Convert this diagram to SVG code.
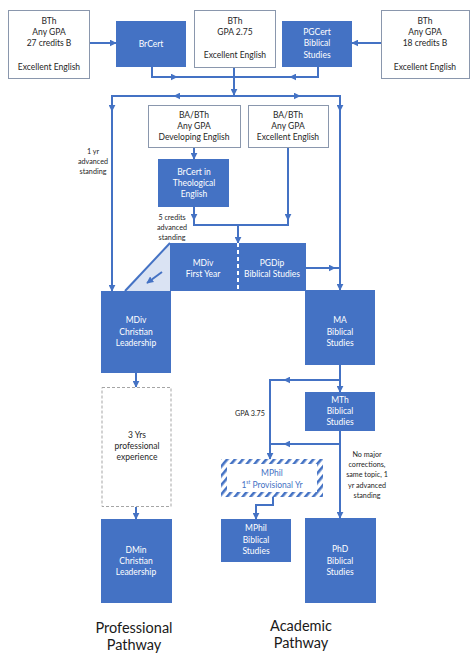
<svg xmlns="http://www.w3.org/2000/svg" width="474" height="659" viewBox="0 0 474 659">
<style>
.wbox{fill:#fff;stroke:#8a97ad;stroke-width:1}
.bbox{fill:#4472C4}
.t{font-family:Lato,"Open Sans","Liberation Sans",sans-serif;font-size:8.5px;text-anchor:middle;dominant-baseline:central}
.dk{fill:#262626}
.wt{fill:#fff}
.lbl{font-size:7.2px}
.con{fill:none;stroke:#4472C4;stroke-width:2}
.ah{fill:none;stroke:#4472C4;stroke-width:2;marker-end:url(#arr)}
.big{font-size:14.5px;fill:#1a1a1a}
</style>
<defs>
<marker id="arr" viewBox="0 0 10 10" refX="9" refY="5" markerWidth="3.5" markerHeight="3.5" orient="auto">
<path d="M0,0 L10,5 L0,10 z" fill="#4472C4"/>
</marker>
<pattern id="hatch" width="6" height="6" patternUnits="userSpaceOnUse" patternTransform="rotate(40)">
<rect x="0" y="0" width="2.6" height="6" fill="#4472C4"/>
</pattern>
</defs>
<rect width="474" height="659" fill="#fff"/>

<g id="connectors">
<path class="ah" d="M89,43 H116"/>
<path class="ah" d="M381,43 H352"/>
<path class="con" d="M152,67 V77 H318 V67"/>
<path class="ah" d="M160,77 H177"/>
<path class="ah" d="M310,77 H290"/>
<path class="con" d="M234,67 V96"/>
<path class="ah" d="M234,85 V95"/>
<path class="con" d="M112,291 V96 H340 V290"/>
<path class="ah" d="M190,96 H174"/>
<path class="ah" d="M284,96 H300"/>
<path class="ah" d="M112,100 V111"/>
<path class="ah" d="M340,100 V111"/>
<path class="ah" d="M112,275 V291"/>
<path class="ah" d="M340,275 V290"/>
<path class="ah" d="M194,147 V159"/>
<path class="con" d="M194,207 V225 H288 V147"/>
<path class="ah" d="M194,208 V220"/>
<path class="ah" d="M288,208 V220"/>
<path class="ah" d="M238,225 V243"/>
<path class="con" d="M306,268 H340"/>
<path class="ah" d="M318,268 H335"/>
<path class="ah" d="M136,373 V387"/>
<path class="ah" d="M136,507 V519"/>
<path class="ah" d="M340,365 V392"/>
<path class="con" d="M340,380 H270 V459"/>
<path class="ah" d="M300,380 H284"/>
<path class="ah" d="M270,445 V459"/>
<path class="ah" d="M340,431 V518"/>
<path class="con" d="M340,444 H270"/>
<path class="ah" d="M300,444 H284"/>
<path class="con" d="M273,497 V505 H256 V519"/>
<path class="ah" d="M256,505 V519"/>
</g>

<g id="bth27">
<rect class="wbox" x="8.5" y="10.5" width="81" height="68"/>
<text class="t dk" x="49" y="21">BTh</text>
<text class="t dk" x="49" y="32">Any GPA</text>
<text class="t dk" x="49" y="43">27 credits B</text>
<text class="t dk" x="49" y="67">Excellent English</text>
</g>
<g id="brcert">
<rect class="bbox" x="116" y="21" width="70" height="46"/>
<text class="t wt" x="151" y="44">BrCert</text>
</g>
<g id="bth275">
<rect class="wbox" x="194.5" y="10.5" width="81" height="57"/>
<text class="t dk" x="235" y="21">BTh</text>
<text class="t dk" x="235" y="32">GPA 2.75</text>
<text class="t dk" x="235" y="55">Excellent English</text>
</g>
<g id="pgcert">
<rect class="bbox" x="282" y="21" width="70" height="46"/>
<text class="t wt" x="317" y="32">PGCert</text>
<text class="t wt" x="317" y="43">Biblical</text>
<text class="t wt" x="317" y="55">Studies</text>
</g>
<g id="bth18">
<rect class="wbox" x="381.5" y="10.5" width="88" height="68"/>
<text class="t dk" x="425" y="21">BTh</text>
<text class="t dk" x="425" y="32">Any GPA</text>
<text class="t dk" x="425" y="43">18 credits B</text>
<text class="t dk" x="425" y="67">Excellent English</text>
</g>
<g id="badev">
<rect class="wbox" x="148.5" y="105.5" width="92" height="42"/>
<text class="t dk" x="194" y="115">BA/BTh</text>
<text class="t dk" x="194" y="126">Any GPA</text>
<text class="t dk" x="194" y="137">Developing English</text>
</g>
<g id="baexc">
<rect class="wbox" x="248.5" y="105.5" width="80" height="42"/>
<text class="t dk" x="288" y="115">BA/BTh</text>
<text class="t dk" x="288" y="126">Any GPA</text>
<text class="t dk" x="288" y="137">Excellent English</text>
</g>
<g id="brcertte">
<rect class="bbox" x="158" y="159" width="71" height="48"/>
<text class="t wt" x="194" y="172">BrCert in</text>
<text class="t wt" x="194" y="183">Theological</text>
<text class="t wt" x="194" y="194">English</text>
</g>
<g id="lbl1yr">
<text class="t dk lbl" x="93" y="151">1 yr</text>
<text class="t dk lbl" x="93" y="161">advanced</text>
<text class="t dk lbl" x="93" y="171">standing</text>
</g>
<g id="lbl5cr">
<text class="t dk lbl" x="172" y="217">5 credits</text>
<text class="t dk lbl" x="172" y="227">advanced</text>
<text class="t dk lbl" x="172" y="237">standing</text>
</g>
<g id="firstyear">
<polygon points="170,243 125,291 170,291" fill="#dae3f3"/>
<line x1="170" y1="243" x2="125" y2="291" stroke="#4472C4" stroke-width="2"/>
<path class="ah" d="M162,272 L147,283"/>
<rect class="bbox" x="170" y="243" width="136" height="48"/>
<line x1="238" y1="243" x2="238" y2="291" stroke="#fff" stroke-width="2" stroke-dasharray="4,3"/>
<text class="t wt" x="203" y="263">MDiv</text>
<text class="t wt" x="203" y="274">First Year</text>
<text class="t wt" x="272" y="263">PGDip</text>
<text class="t wt" x="272" y="274">Biblical Studies</text>
</g>
<g id="mdivcl">
<rect class="bbox" x="101" y="291" width="70" height="82"/>
<text class="t wt" x="136" y="320">MDiv</text>
<text class="t wt" x="136" y="332">Christian</text>
<text class="t wt" x="136" y="343">Leadership</text>
</g>
<g id="mabs">
<rect class="bbox" x="305" y="290" width="70" height="75"/>
<text class="t wt" x="340" y="320">MA</text>
<text class="t wt" x="340" y="332">Biblical</text>
<text class="t wt" x="340" y="343">Studies</text>
</g>
<g id="exp">
<rect x="102" y="387.5" width="69" height="119" fill="#fff" stroke="#a5a5a5" stroke-width="1" stroke-dasharray="3,2"/>
<text class="t dk" x="137" y="435">3 Yrs</text>
<text class="t dk" x="137" y="446">professional</text>
<text class="t dk" x="137" y="457">experience</text>
</g>
<g id="dmin">
<rect class="bbox" x="101" y="519" width="71" height="84"/>
<text class="t wt" x="136" y="550">DMin</text>
<text class="t wt" x="136" y="561">Christian</text>
<text class="t wt" x="136" y="572">Leadership</text>
</g>
<g id="mth">
<rect class="bbox" x="305" y="392" width="70" height="39"/>
<text class="t wt" x="340" y="400">MTh</text>
<text class="t wt" x="340" y="411">Biblical</text>
<text class="t wt" x="340" y="422">Studies</text>
</g>
<g id="lblgpa">
<text class="t dk lbl" x="250" y="413">GPA 3.75</text>
</g>
<g id="lblnomajor">
<text class="t dk lbl" x="367" y="454">No major</text>
<text class="t dk lbl" x="367" y="464">corrections,</text>
<text class="t dk lbl" x="367" y="474">same topic, 1</text>
<text class="t dk lbl" x="367" y="485">yr advanced</text>
<text class="t dk lbl" x="367" y="495">standing</text>
</g>
<g id="mphilprov">
<path d="M221,459 H323 V497 H221 Z M227,464 V492 H317 V464 Z" fill="url(#hatch)" fill-rule="evenodd"/>
<text class="t" x="272" y="473" fill="#4472C4">MPhil</text>
<text class="t" x="272" y="485" fill="#4472C4">1<tspan font-size="5" baseline-shift="super">st</tspan> Provisional Yr</text>
</g>
<g id="mphil">
<rect class="bbox" x="221" y="519" width="70" height="43"/>
<text class="t wt" x="256" y="528">MPhil</text>
<text class="t wt" x="256" y="540">Biblical</text>
<text class="t wt" x="256" y="551">Studies</text>
</g>
<g id="phd">
<rect class="bbox" x="305" y="518" width="71" height="85"/>
<text class="t wt" x="340" y="549">PhD</text>
<text class="t wt" x="340" y="561">Biblical</text>
<text class="t wt" x="340" y="572">Studies</text>
</g>
<g id="profpath">
<text class="t big" x="134" y="627">Professional</text>
<text class="t big" x="134" y="644">Pathway</text>
</g>
<g id="acadpath">
<text class="t big" x="301" y="625">Academic</text>
<text class="t big" x="301" y="642">Pathway</text>
</g>
</svg>
